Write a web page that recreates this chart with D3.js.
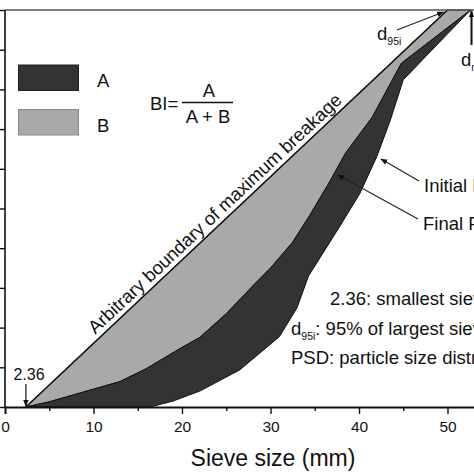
<!DOCTYPE html>
<html><head><meta charset="utf-8">
<script src="https://cdn.jsdelivr.net/npm/d3@7"></script>
<style>
body{margin:0;background:#fff;overflow:hidden}
svg{display:block}
text{font-family:Arial,"Liberation Sans",Helvetica,sans-serif;fill:#111}
</style>
</head><body>
<svg id="c" width="474" height="474"></svg>
<script>
// ---- data (sieve size in mm, percent passing) ----
const boundarySize = [2.36, 50, 52.6];
const boundaryPass = [0, 100, 100];
const finalSize = [2.36, 5, 10, 13, 16, 20, 22, 25, 28, 30, 32.5, 34.5, 36.5, 38.5, 41.5, 44.8, 52.6];
const finalPass = [0, 1.3, 4.5, 6.4, 9.7, 15, 17.5, 23.5, 30.5, 35, 41.5, 48.5, 56, 64, 73, 86.6, 100];
const initSize = [2.36, 16.4, 19, 22, 26.5, 31, 33, 34.3, 37.8, 40.1, 42, 43.5, 45, 52.6];
const initPass = [0, 0, 1.5, 4, 9.3, 17.7, 25, 33, 45.4, 53.8, 63, 72, 82.4, 100];
const xTicks = [0, 10, 20, 30, 40, 50];
const xMinorTicks = [5, 15, 25, 35, 45];
const yTicks = [0, 10, 20, 30, 40, 50, 60, 70, 80, 90, 100];
const legendKeys = ["A", "B"];
const noteLines = ["2.36: smallest sieve size", "d95i: 95% of largest sieve size", "PSD: particle size distribution"];

const svg = d3.select("#c");
const x = d3.scaleLinear().domain([0, 55]).range([5, 5 + 55 * 8.85]);
const y = d3.scaleLinear().domain([0, 100]).range([407, 10]);
const colA = "#333333", colB = "#a9a9a9";
const FS = 18.5;

const defs = svg.append("defs");
defs.append("marker").attr("id", "ah").attr("viewBox", "0 0 10 10")
  .attr("refX", 9).attr("refY", 5).attr("markerWidth", 7).attr("markerHeight", 7)
  .attr("markerUnits", "userSpaceOnUse").attr("orient", "auto")
  .append("path").attr("d", "M0,1 L10,5 L0,9 Z").attr("fill", "#111");

const pts = (s, p) => s.map((v, i) => [x(v), y(p[i])]);
const line = d3.line();

// region B: between boundary and final PSD
const bPoly = pts(boundarySize, boundaryPass).concat(pts(finalSize, finalPass).reverse());
svg.append("path").attr("d", line(bPoly) + "Z").attr("fill", colB).attr("stroke", "#111").attr("stroke-width", 1);
// region A: between final PSD and initial PSD
const aPoly = pts(finalSize, finalPass).concat(pts(initSize, initPass).reverse());
svg.append("path").attr("d", line(aPoly) + "Z").attr("fill", colA).attr("stroke", "#111").attr("stroke-width", 1);
// boundary line
svg.append("path").attr("d", line(pts(boundarySize.slice(0, 2), boundaryPass.slice(0, 2))))
  .attr("stroke", "#111").attr("stroke-width", 1.6).attr("fill", "none");

// frame / axes
svg.append("line").attr("x1", x(0)).attr("x2", 474).attr("y1", y(100)).attr("y2", y(100))
  .attr("stroke", "#555").attr("stroke-width", 1.6);
svg.append("line").attr("x1", x(0)).attr("x2", x(0)).attr("y1", y(100)).attr("y2", y(0))
  .attr("stroke", "#111").attr("stroke-width", 1.6);
const xAxis = svg.append("g").attr("transform", `translate(0,${y(0)})`)
  .call(d3.axisBottom(x).tickValues(xTicks).tickSize(7).tickPadding(7).tickFormat(d3.format("d")));
xAxis.select(".domain").attr("stroke", "#111").attr("stroke-width", 1.8);
xAxis.selectAll(".tick line").attr("stroke", "#111").attr("stroke-width", 1.4);
xAxis.selectAll("text").attr("font-size", 15.5).attr("fill", "#111").style("font-family", "Arial, 'Liberation Sans', sans-serif");
const xMinor = svg.append("g").attr("transform", `translate(0,${y(0)})`)
  .call(d3.axisBottom(x).tickValues(xMinorTicks).tickSize(4).tickFormat(""));
xMinor.select(".domain").remove();
xMinor.selectAll(".tick line").attr("stroke", "#111").attr("stroke-width", 1.4);
const yAxis = svg.append("g").attr("transform", `translate(${x(0)},0)`)
  .call(d3.axisLeft(y).tickValues(yTicks).tickSize(5).tickFormat(""));
yAxis.select(".domain").remove();
yAxis.selectAll(".tick line").attr("stroke", "#111").attr("stroke-width", 1.4);

svg.append("text").attr("x", 273).attr("y", 466).attr("text-anchor", "middle")
  .attr("font-size", 23).text("Sieve size (mm)");

// legend
legendKeys.forEach((k, i) => {
  const yy = 65 + i * 44.5;
  svg.append("rect").attr("x", 18.5).attr("y", yy).attr("width", 60).attr("height", 25.5)
    .attr("fill", i === 0 ? colA : colB).attr("stroke", i === 0 ? "#222" : "#888").attr("stroke-width", 1);
  svg.append("text").attr("x", 97).attr("y", yy + 22).attr("font-size", FS).text(k);
});

// BI formula
svg.append("text").attr("x", 150).attr("y", 110).attr("font-size", FS).text("BI=");
svg.append("text").attr("x", 209).attr("y", 97).attr("font-size", FS).attr("text-anchor", "middle").text("A");
svg.append("line").attr("x1", 182).attr("x2", 233).attr("y1", 102.5).attr("y2", 102.5).attr("stroke", "#111").attr("stroke-width", 1.3);
svg.append("text").attr("x", 208).attr("y", 123).attr("font-size", FS).attr("text-anchor", "middle").text("A + B");

// label along boundary
{
  const x0 = x(boundarySize[0]), y0 = y(boundaryPass[0]);
  const x1 = x(boundarySize[1]), y1 = y(boundaryPass[1]);
  const ang = Math.atan2(y1 - y0, x1 - x0);
  const len = 100;
  const ux = Math.cos(ang), uy = Math.sin(ang);
  const px = x0 + ux * len + uy * 5, py = y0 + uy * len - ux * 5;
  svg.append("text").attr("transform", `translate(${px},${py}) rotate(${ang * 180 / Math.PI})`)
    .attr("font-size", FS).text("Arbitrary boundary of maximum breakage");
}

// 2.36 annotation
svg.append("text").attr("x", 29).attr("y", 380).attr("font-size", 16).attr("text-anchor", "middle").text("2.36");
svg.append("line").attr("x1", x(2.36)).attr("x2", x(2.36)).attr("y1", 384).attr("y2", y(0) - 1)
  .attr("stroke", "#111").attr("stroke-width", 1.2).attr("marker-end", "url(#ah)");

// d95i
const d95 = svg.append("text").attr("x", 377).attr("y", 40).attr("font-size", FS);
d95.append("tspan").text("d");
d95.append("tspan").attr("font-size", 10.5).attr("dy", 5).text("95i");
svg.append("line").attr("x1", 397).attr("y1", 30).attr("x2", x(50) - 4).attr("y2", y(100) + 2)
  .attr("stroke", "#222").attr("stroke-width", 1.1).attr("marker-end", "url(#ah)");
// dm
const dm = svg.append("text").attr("x", 461).attr("y", 66).attr("font-size", FS);
dm.append("tspan").text("d");
dm.append("tspan").attr("font-size", 10.5).attr("dy", 5).text("m");
svg.append("line").attr("x1", 471.5).attr("y1", 45).attr("x2", 471.5).attr("y2", y(100) + 1)
  .attr("stroke", "#111").attr("stroke-width", 2).attr("marker-end", "url(#ah)");

// Initial / Final PSD
svg.append("text").attr("x", 424).attr("y", 192).attr("font-size", FS).text("Initial PSD");
svg.append("line").attr("x1", 419).attr("y1", 181).attr("x2", 381).attr("y2", 159)
  .attr("stroke", "#222").attr("stroke-width", 1.1).attr("marker-end", "url(#ah)");
svg.append("text").attr("x", 423).attr("y", 230).attr("font-size", FS).text("Final PSD");
svg.append("line").attr("x1", 418).attr("y1", 219).attr("x2", 338).attr("y2", 175)
  .attr("stroke", "#222").attr("stroke-width", 1.1).attr("marker-end", "url(#ah)");

// notes
svg.append("text").attr("x", 330).attr("y", 305).attr("font-size", FS).text(noteLines[0]);
const n2 = svg.append("text").attr("x", 291).attr("y", 335).attr("font-size", FS);
n2.append("tspan").text("d");
n2.append("tspan").attr("font-size", 10.5).attr("dy", 5).text("95i");
n2.append("tspan").attr("dy", -5).text(noteLines[1].slice(4));
svg.append("text").attr("x", 291).attr("y", 364).attr("font-size", FS).text(noteLines[2]);
</script>
</body></html>
